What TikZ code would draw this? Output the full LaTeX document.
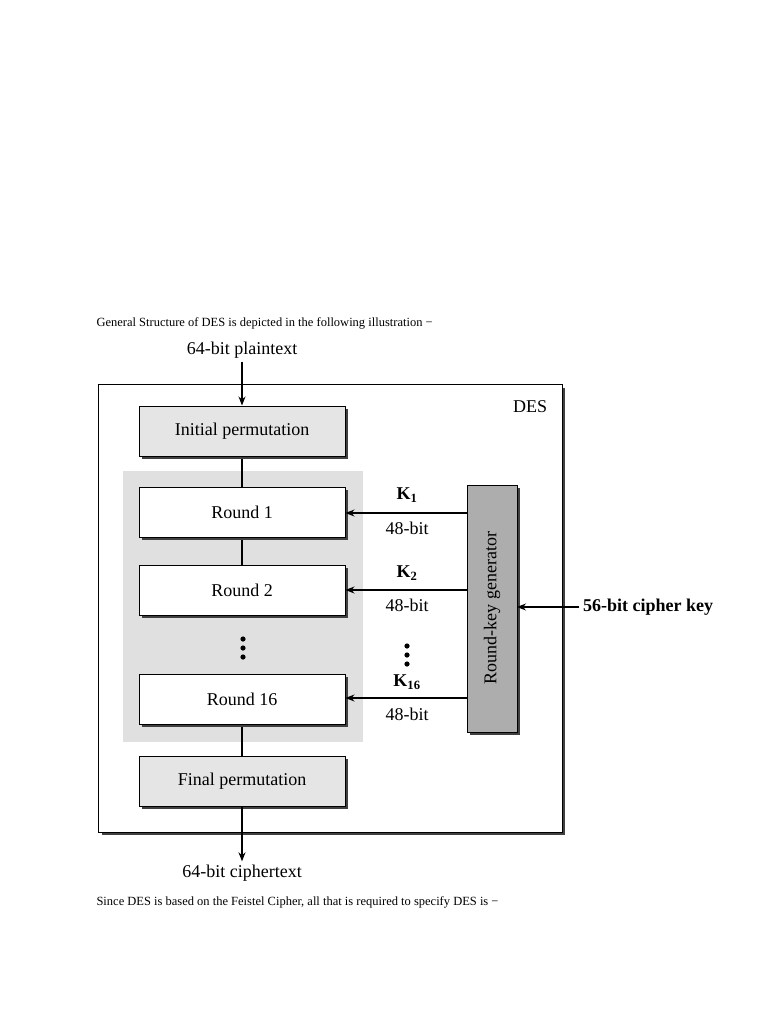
\documentclass[tikz,border=0pt]{standalone}
\usepackage{fontspec}
\setmainfont{Liberation Serif}
\usetikzlibrary{arrows.meta}
\begin{document}
\begin{tikzpicture}[x=1pt,y=-1pt,
  arr/.style={-{Stealth[length=9pt,width=7pt]},line width=1.1pt},
  lab/.style={font=\fontsize{18}{20}\selectfont},
  dots/.style={minimum width=8pt,minimum height=26pt,inner sep=0pt,
    path picture={\fill (path picture bounding box.center) circle (2.6pt)
      ++(0,9pt) circle (2.6pt) ++(0,-18pt) circle (2.6pt);}}]
\useasboundingbox (0,0) rectangle (768,1024);
\node[anchor=west,font=\fontsize{12.5}{14}\selectfont] (t1) at (93,323) {General Structure of DES is depicted in the following illustration \textminus};
\node[anchor=west,font=\fontsize{12.5}{14}\selectfont] (t2) at (93,902) {Since DES is based on the Feistel Cipher, all that is required to specify DES is \textminus};
% outer box
\fill[black!75] (102,388) rectangle (565,835);
\draw[fill=white,line width=1pt] (98,384) rectangle (562,832);
\node[lab] (des) at (530,407) {DES};
% gray region
\fill[black!12] (123,471) rectangle (363,742);
% key generator
\fill[black!75] (470,488) rectangle (520,735);
\draw[fill=black!32,line width=1pt] (467,485) rectangle (517,732);
\node[lab,rotate=90] (rkg) at (492,608) {Round-key generator};
\coordinate (g1) at (467,513);
\coordinate (g2) at (467,590);
\coordinate (g16) at (467,698);
\draw[line width=1.1pt] (242,457) -- (242,487) (242,537) -- (242,565) (242,724) -- (242,756);
% boxes with shadows
\foreach \n/\y/\t/\f in {ip/431/Initial permutation/black!10, r1/512/Round 1/white, r2/590/Round 2/white, r16/699/Round 16/white, fp/781/Final permutation/black!10}{
  \fill[black!75] (142,\y-22) rectangle (348,\y+28);
  \node[draw,line width=1pt,fill=\f,minimum width=206pt,minimum height=50pt,font=\fontsize{18}{20}\selectfont] (\n) at (242,\y) {\t};
}
\node[dots] (d1) at (243,648) {};
\node[dots] (d2) at (407,655) {};
\node[lab] (pt) at (242,350) {64-bit plaintext};
\node[lab] (ct) at (242,873) {64-bit ciphertext};
\node[lab,font=\fontsize{18}{20}\selectfont\bfseries] (ck) at (648,607) {56-bit cipher key};
\draw[arr] (pt) -- (ip);
\draw[arr] (fp.south) -- (ct.north);
\draw[arr] (ck.west) -- (517,607);
\draw[arr] (g1) -- (r1.east |- g1);
\draw[arr] (g2) -- (r2.east |- g2);
\draw[arr] (g16) -- (r16.east |- g16);
\node[lab,font=\fontsize{18}{20}\selectfont\bfseries] (k1) at (407,495) {K\textsubscript{1}};
\node[lab] (b1) at (407,528) {48-bit};
\node[lab,font=\fontsize{18}{20}\selectfont\bfseries] (k2) at (407,573) {K\textsubscript{2}};
\node[lab] (b2) at (407,605) {48-bit};
\node[lab,font=\fontsize{18}{20}\selectfont\bfseries] (k16) at (407,682) {K\textsubscript{16}};
\node[lab] (b16) at (407,714) {48-bit};
\end{tikzpicture}
\end{document}
